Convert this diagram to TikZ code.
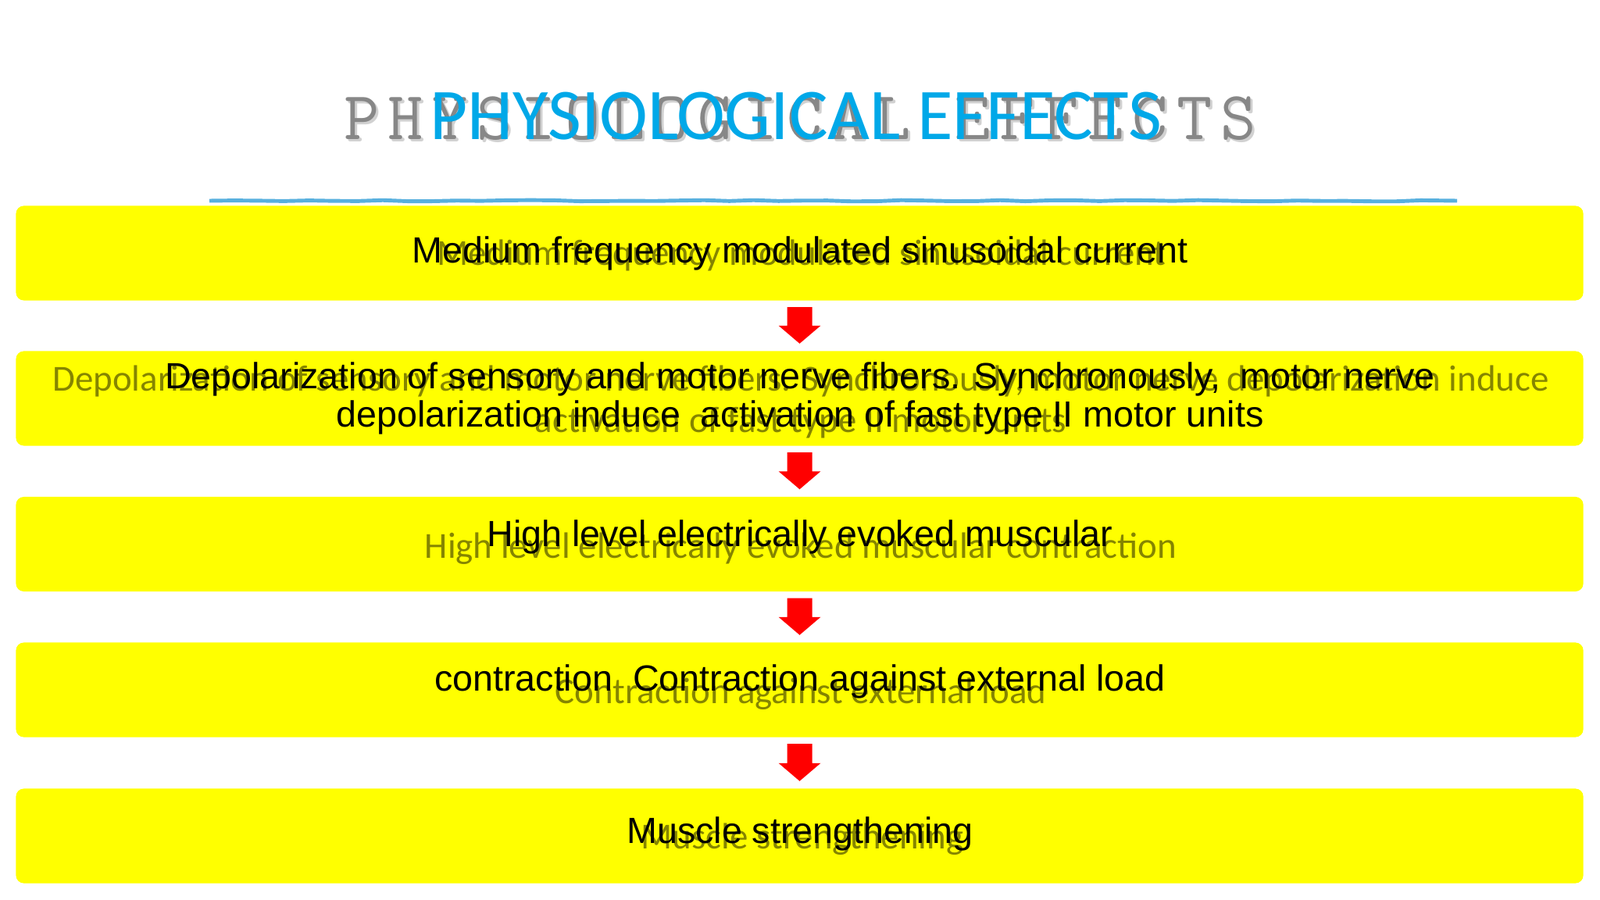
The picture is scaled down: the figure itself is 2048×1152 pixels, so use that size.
\documentclass[tikz,border=0pt]{standalone}
\usepackage{fontspec}
\setmainfont{Liberation Sans}
\newfontfamily\ghostfont{Carlito}
\newfontfamily\headfont{Carlito}
\newfontfamily\ghostheadfont[LetterSpace=13]{Latin Modern Mono}
\usetikzlibrary{calc}
\usetikzlibrary{decorations.pathmorphing}

\definecolor{slideyellow}{RGB}{255,255,0}
\definecolor{titleblue}{RGB}{0,168,232}
\definecolor{ruleblue}{RGB}{88,176,222}

\tikzset{
  stepbox/.style={fill=slideyellow, rounded corners=0.1cm, inner sep=0pt,
    minimum width=20.05cm, minimum height=1.21cm},
  bodytext/.style={anchor=base, inner sep=0pt, font=\fontsize{13.26}{13.9}\selectfont},
  ghosttext/.style={anchor=base, inner sep=0pt, text=black, text opacity=0.48,
    font=\ghostfont\fontsize{13.35}{14}\selectfont},
  ghosthead/.style={anchor=base, inner sep=0pt,
    font=\ghostheadfont\fontsize{25}{27}\selectfont},
}

\newcommand{\blockarrow}[2]{%
  \fill[red] ($(#1.south)+(-16,8)$) -- ($(#1.south)+(16,8)$)
    -- ($(#2.north)+(16,-32)$) -- ($(#2.north)+(27,-32)$)
    -- ($(#2.north)+(0,-9)$) -- ($(#2.north)+(-27,-32)$)
    -- ($(#2.north)+(-16,-32)$) -- cycle;}

\begin{document}
\begin{tikzpicture}[x=0.01cm, y=-0.01cm]
  \useasboundingbox (0,0) rectangle (2048,1152);

  % title
  \node[ghosthead, text=black!18] (tshadow) at (1027,182) {PHYSIOLOGICAL EFFECTS};
  \node[ghosthead, text=black!47] (tghost) at (1024,179) {PHYSIOLOGICAL EFFECTS};
  \node[anchor=base, inner sep=0pt, text=titleblue,
    font=\headfont\fontsize{26.5}{28}\selectfont] (title) at (1019,179) {PHYSIOLOGICAL EFFECTS};
  \coordinate (rl) at (268,257);
  \coordinate (rr) at (1865,257);
  \draw[ruleblue, line width=1.4pt, decorate,
    decoration={random steps, segment length=9pt, amplitude=0.25pt}] (rl) -- (rr);

  % boxes
  \node[stepbox] (b1) at (1023.5,324) {};
  \node[stepbox] (b2) at (1023.5,510) {};
  \node[stepbox] (b3) at (1023.5,696.5) {};
  \node[stepbox] (b4) at (1023.5,883) {};
  \node[stepbox] (b5) at (1023.5,1070) {};

  \blockarrow{b1}{b2}
  \blockarrow{b2}{b3}
  \blockarrow{b3}{b4}
  \blockarrow{b4}{b5}

  % faded copies
  \node[ghosttext] (g1) at (1026,340) {Medium frequency modulated sinusoidal current};
  \node[ghosttext] (g2a) at (1025,501) {Depolarization of sensory and motor nerve fibers. Synchronously, motor nerve depolarization induce};
  \node[ghosttext] (g2b) at (1025,554) {activation of fast type II motor units};
  \node[ghosttext] (g3) at (1025,714) {High level electrically evoked muscular contraction};
  \node[ghosttext] (g4) at (1025,900) {Contraction against external load};
  \node[ghosttext] (g5) at (1027,1086) {Muscle strengthening};

  % texts
  \node[bodytext] (t1) at (1024,337) {Medium frequency modulated sinusoidal current};
  \node[bodytext] (t2a) at (1024,498) {Depolarization of sensory and motor nerve fibers. Synchronously,\ \ motor nerve};
  \node[bodytext] (t2b) at (1024,547) {depolarization induce\ \ activation of fast type II motor units};
  \node[bodytext] (t3) at (1024,699) {High level electrically evoked muscular};
  \node[bodytext] (t4) at (1024,884) {contraction\ \ Contraction against external load};
  \node[bodytext] (t5) at (1024,1079) {Muscle strengthening};
\end{tikzpicture}
\end{document}
